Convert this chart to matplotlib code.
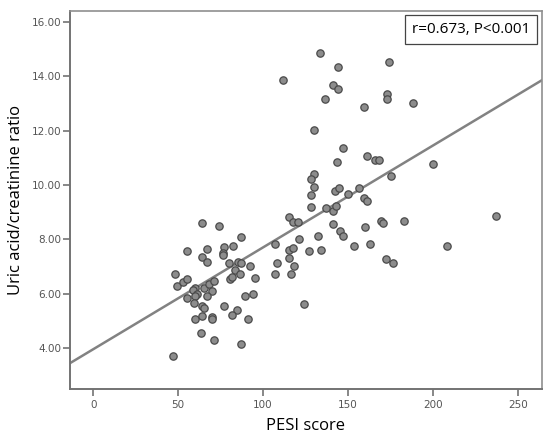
import numpy as np
import matplotlib
matplotlib.use("Agg")
import matplotlib.pyplot as plt

# PESI score vs uric acid/creatinine ratio
pesi_low = [64.1, 74.1, 87.2, 55.1, 67.3, 77.1, 82.2, 76.4, 76.4, 64.1,
            67.3, 107.3, 108.1, 107.3, 80.0, 85.5, 86.8, 83.3, 92.1, 86.2,
            95.2, 80.8, 82.0, 48.1, 49.3, 53.0, 55.0, 60.0, 58.8, 61.2,
            60.2, 55.0, 59.2, 65.4, 68.3, 71.2, 70.2, 67.3, 64.1, 65.3,
            60.1, 64.1, 70.1, 70.1, 63.2, 71.2, 47.2, 87.3, 91.2, 84.9,
            82.0, 77.2, 89.2, 94.1]
ratio_low = [8.60, 8.47, 8.08, 7.56, 7.63, 7.72, 7.76, 7.49, 7.41, 7.35,
             7.16, 7.84, 7.12, 6.72, 7.11, 7.18, 7.14, 6.88, 7.01, 6.71,
             6.57, 6.54, 6.60, 6.71, 6.27, 6.41, 6.55, 6.21, 6.12, 6.00,
             5.90, 5.83, 5.65, 6.20, 6.36, 6.45, 6.08, 5.92, 5.56, 5.47,
             5.08, 5.19, 5.15, 5.08, 4.54, 4.31, 3.72, 4.16, 5.06, 5.41,
             5.23, 5.56, 5.90, 5.99]

pesi_high = [115.2, 117.5, 120.4, 141.2, 145.1, 147.1, 132.3, 121.2, 115.3, 117.5,
             127.2, 134.3, 115.1, 118.3, 116.3, 124.1, 153.4, 160.2, 162.8, 169.2,
             170.4, 172.2, 176.3, 183.2, 208.2, 237.3, 112.0, 133.4, 143.9, 141.2,
             143.9, 136.3, 174.1, 173.1, 173.1, 159.2, 188.2, 130.0, 147.1, 143.4,
             161.2, 165.9, 168.0, 200.2, 175.3, 130.2, 128.1, 130.2, 128.1, 142.2,
             144.5, 150.2, 156.2, 159.2, 161.2, 128.1, 137.3, 141.2, 143.2]
ratio_high = [8.82, 8.64, 8.64, 8.56, 8.32, 8.12, 8.13, 8.01, 7.62, 7.66,
              7.58, 7.60, 7.32, 7.00, 6.72, 5.61, 7.76, 8.45, 7.81, 8.67,
              8.58, 7.27, 7.14, 8.67, 7.76, 8.87, 13.86, 14.85, 14.33, 13.68,
              13.52, 13.15, 14.53, 13.34, 13.17, 12.85, 13.01, 12.01, 11.35, 10.84,
              11.08, 10.90, 10.92, 10.76, 10.34, 10.40, 10.22, 9.91, 9.61, 9.76,
              9.90, 9.67, 9.90, 9.52, 9.41, 9.19, 9.15, 9.05, 9.24]

fit_intercept = 3.95
fit_slope = 0.0375
x_ticks = [0, 50, 100, 150, 200, 250]
y_ticks = [4, 6, 8, 10, 12, 14, 16]
stat_text = "r=0.673, P<0.001"

pesi = np.array(pesi_low + pesi_high)
ratio = np.array(ratio_low + ratio_high)

frame_col = '#737373'

fig = plt.figure(figsize=(5.5, 4.4), dpi=100)
ax = fig.add_axes([0.127, 0.116, 0.858, 0.859])

xlim = (-13.7, 264)
ax.set_xlim(*xlim)
ax.set_ylim(2.49, 16.4)

xs = np.array(xlim)
ax.plot(xs, fit_intercept + fit_slope * xs, color='#828282', lw=1.8, zorder=2)
ax.scatter(pesi, ratio, s=28, facecolor='#8c8c8c', edgecolor='#4a4a4a',
           linewidth=0.9, zorder=3)

ax.set_xticks(x_ticks)
ax.set_xticklabels([str(t) for t in x_ticks])
ax.set_yticks(y_ticks)
ax.set_yticklabels([f"{t:.2f}" for t in y_ticks])
ax.tick_params(axis='both', direction='out', length=5, width=1.2, color=frame_col,
               labelsize=7.5, labelcolor='#555555')
ax.tick_params(axis='x', pad=3)
ax.tick_params(axis='y', pad=1)
for side in ['top', 'right']:
    ax.spines[side].set_color('#8f8f8f')
    ax.spines[side].set_linewidth(1.2)
for side in ['left', 'bottom']:
    ax.spines[side].set_color(frame_col)
    ax.spines[side].set_linewidth(1.4)

ax.set_xlabel("PESI score", fontsize=12, family='Open Sans', labelpad=6)
ax.set_ylabel("Uric acid/creatinine ratio", fontsize=12, family='Open Sans', labelpad=6)

ax.text(0.976, 0.971, stat_text, transform=ax.transAxes, ha='right', va='top',
        fontsize=11, family='Open Sans',
        bbox=dict(boxstyle='square,pad=0.45', facecolor='white', edgecolor='#444444', lw=0.9))

fig.savefig("out.png", dpi=100)
